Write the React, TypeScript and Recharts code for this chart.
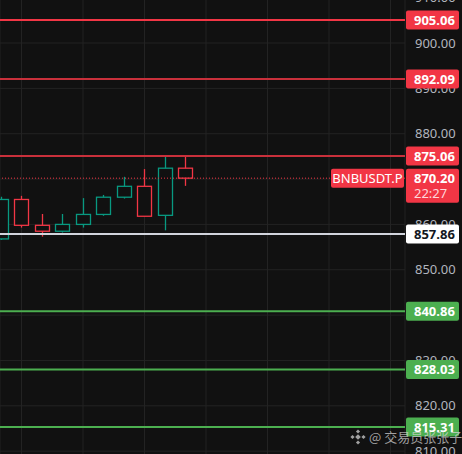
import React from 'react'
import { ComposedChart, Bar, XAxis, YAxis, CartesianGrid, ReferenceLine } from 'recharts'

// candles, left to right
const opens = [856.8, 865.5, 859.8, 858.5, 860.0, 862.2, 866.0, 868.4, 862.0, 872.4]
const closes = [865.5, 859.8, 858.5, 860.0, 862.2, 866.0, 868.4, 861.8, 872.4, 870.2]
const highs = [866.1, 866.3, 862.3, 862.3, 865.8, 866.5, 870.5, 872.2, 874.9, 875.3]
const lows = [856.6, 859.3, 857.3, 858.2, 859.3, 861.9, 865.7, 861.8, 858.7, 868.5]

const levels = [905.06, 892.09, 875.06, 857.86, 840.86, 828.03, 815.31]
const lastPrice = 870.2
const symbol = 'BNBUSDT.P'
const countdown = '22:27'
const priceTicks = [810, 820, 830, 840, 850, 860, 870, 880, 890, 900, 910]
const gridCols = [1, 4, 7, 10, 13, 16, 19]

const BG = '#111111'
const UP = '#089981'
const DOWN = '#f23645'
const lineColors = ['#f23645', '#c9303b', '#c9303b', '#d1d4dc', '#4caf50', '#4caf50', '#4caf50']
const boxColors = ['#f23645', '#f23645', '#f23645', '#ffffff', '#4caf50', '#4caf50', '#4caf50']
const boxText = ['#fff', '#fff', '#fff', '#131722', '#fff', '#fff', '#fff']

const data = opens.map((o, i) => ({
  i,
  open: o,
  close: closes[i],
  high: highs[i],
  low: lows[i],
  range: [lows[i], highs[i]],
}))

const FONT = '"Noto Sans", Roboto, sans-serif'
const X_DOMAIN = [-1 / 20.5, 404 / 20.5]
const Y_DOMAIN = [807.17, 911.69]

const Candle = (props: any) => {
  const { x, y, width, height, payload } = props
  const { open, close, high, low } = payload
  const per = height / (high - low || 1)
  const yOf = (v: number) => y + (high - v) * per
  const color = close >= open ? UP : DOWN
  const cx = Math.round(x + width / 2) + 0.5
  const top = yOf(Math.max(open, close))
  const bot = yOf(Math.min(open, close))
  return (
    <g>
      <line x1={cx} x2={cx} y1={y} y2={y + height} stroke={color} strokeWidth={1.3} />
      <rect x={cx - 7} y={top} width={14} height={Math.max(bot - top, 1)} fill={BG} stroke={color} strokeWidth={1.3} />
    </g>
  )
}

const PriceTick = (props: any) => {
  const { y, payload } = props
  return (
    <text x={415} y={y} dy="0.35em" fill="#b2b5be" fontSize={13} fontFamily={FONT}>
      {payload.value.toFixed(2)}
    </text>
  )
}

const levelLabel = (idx: number) => (props: any) => {
  const { viewBox } = props
  const y = viewBox.y
  return (
    <g>
      <rect x={406} y={y - 9.5} width={53} height={19} rx={2} fill={boxColors[idx]} />
      <text x={414} y={y} dy="0.36em" fill={boxText[idx]} fontSize={13} fontWeight={700} fontFamily={FONT}>
        {levels[idx].toFixed(2)}
      </text>
    </g>
  )
}

const lastLabel = (props: any) => {
  const { viewBox } = props
  const y = viewBox.y
  return (
    <g>
      <rect x={331} y={y - 9.5} width={73} height={19} rx={2} fill={DOWN} />
      <text x={367.5} y={y} dy="0.36em" textAnchor="middle" fill="#fff" fontSize={13} fontFamily={FONT}>
        {symbol}
      </text>
      <rect x={406} y={y - 9.5} width={53} height={34} rx={2} fill={DOWN} />
      <text x={414} y={y} dy="0.36em" fill="#fff" fontSize={13} fontWeight={700} fontFamily={FONT}>
        {lastPrice.toFixed(2)}
      </text>
      <text x={414} y={y + 15} dy="0.36em" fill="#ffd6da" fontSize={13} fontFamily={FONT}>
        {countdown}
      </text>
    </g>
  )
}

export default function App() {
  const layer: React.CSSProperties = { position: 'absolute', left: 0, top: -10 }
  return (
    <div style={{ position: 'fixed', left: 0, top: 0, width: 462, height: 454, overflow: 'hidden', background: BG }}>
      {/* base: grid, price scale, candles */}
      <div style={layer}>
        <ComposedChart width={462} height={474} data={data} margin={{ top: 0, right: 0, bottom: 0, left: 0 }}>
          <CartesianGrid stroke="#232323" strokeWidth={1} />
          <XAxis dataKey="i" type="number" domain={X_DOMAIN} allowDataOverflow ticks={gridCols} hide />
          <YAxis
            orientation="right"
            type="number"
            width={57}
            domain={Y_DOMAIN}
            allowDataOverflow
            ticks={priceTicks}
            axisLine={false}
            tickLine={false}
            tick={<PriceTick />}
            interval={0}
          />
          <Bar dataKey="range" barSize={14} shape={<Candle />} isAnimationActive={false} />
        </ComposedChart>
      </div>
      {/* overlay: level lines and their price boxes above the scale */}
      <div style={layer}>
        <ComposedChart width={462} height={474} data={data} margin={{ top: 0, right: 0, bottom: 0, left: 0 }}>
          <XAxis dataKey="i" type="number" domain={X_DOMAIN} allowDataOverflow hide />
          <YAxis orientation="right" type="number" width={57} domain={Y_DOMAIN} allowDataOverflow tick={false} axisLine={false} tickLine={false} />
          <ReferenceLine y={lastPrice} stroke={DOWN} strokeWidth={1} strokeDasharray="1 2" label={lastLabel} />
          {levels.map((v, idx) => (
            <ReferenceLine key={v} y={v} stroke={lineColors[idx]} strokeWidth={2} label={levelLabel(idx)} />
          ))}
        </ComposedChart>
      </div>
      <svg width={120} height={20} style={{ position: 'absolute', left: 345, top: 427 }}>
        <g fill="rgba(210,210,210,0.75)" transform="translate(13,10)">
          <rect x={-2} y={-2} width={4} height={4} transform="rotate(45)" />
          <rect x={-7} y={-1.5} width={3} height={3} transform="rotate(45 -5.5 0)" />
          <rect x={4} y={-1.5} width={3} height={3} transform="rotate(45 5.5 0)" />
          <rect x={-1.5} y={-7} width={3} height={3} transform="rotate(45 0 -5.5)" />
          <rect x={-1.5} y={4} width={3} height={3} transform="rotate(45 0 5.5)" />
        </g>
        <text x={24} y={10} dy="0.36em" fill="rgba(210,210,210,0.75)" fontSize={13} fontFamily='"Noto Sans CJK SC", "Noto Sans", sans-serif'>
          @ 交易员张张子
        </text>
      </svg>
    </div>
  )
}
